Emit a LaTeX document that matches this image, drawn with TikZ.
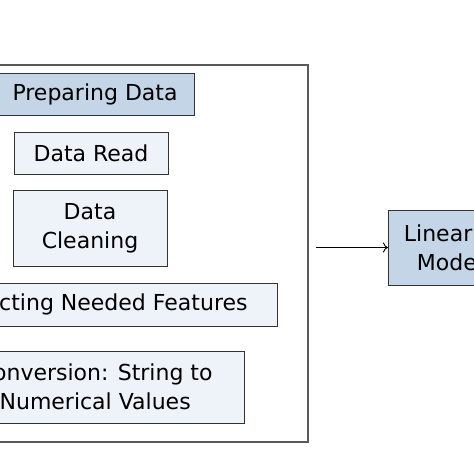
\documentclass[tikz,border=0pt]{standalone}
\usepackage{fontspec}
\setmainfont{DejaVu Sans}
\usetikzlibrary{arrows.meta}

\definecolor{stepdark}{HTML}{C4D5E8}
\definecolor{steplight}{HTML}{EEF2F9}
\definecolor{frame}{HTML}{5A5A5A}

\tikzset{
  stepbox/.style={draw=black!80, fill=steplight, line width=0.9pt,
    font=\fontsize{22}{29}\selectfont, align=center, inner ysep=0pt},
  headbox/.style={stepbox, fill=stepdark}
}

\begin{document}
\begin{tikzpicture}
  [x=1pt,y=-1pt]
  \clip (0,0) rectangle (474,474);
  \fill[white] (0,0) rectangle (474,474);

  % outer frame of the preparing stage
  \node[draw=frame, line width=1.3pt, minimum width=313pt, minimum height=377pt] (prep) at (151.5,253.5) {};

  \node[headbox, anchor=east, inner xsep=17pt, minimum height=42pt] (head) at (195,94) {Preparing Data};
  \node[stepbox, minimum width=154pt, minimum height=42pt] (read) at (91,153) {Data Read};
  \node[stepbox, minimum width=154pt, minimum height=76pt] (clean) at (90,228) {Data\\Cleaning};
  \node[stepbox, anchor=east, inner xsep=30pt, minimum height=43pt] (feat) at (278,304.5) {Selecting Needed Features};
  \node[stepbox, anchor=east, inner xsep=32pt, minimum height=72pt] (conv) at (245,387) {Conversion: String to\\Numerical Values};

  \node[headbox, anchor=west, align=left, inner xsep=14pt, minimum height=75pt, minimum width=110pt] (model) at (388,247.5) {Linear\\\hspace*{13pt}Model};

  \draw[-{To[length=5pt,width=10pt]}, line width=0.9pt] ([xshift=7pt]prep.east |- model.west) -- (model.west);

\end{tikzpicture}
\end{document}
